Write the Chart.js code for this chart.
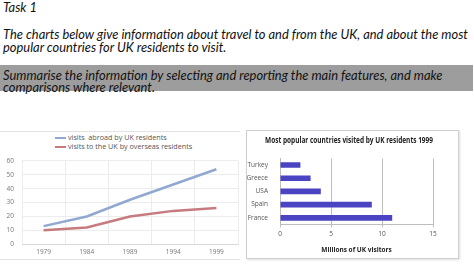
<!DOCTYPE html>
<html>
<head>
<meta charset="utf-8">
<script src="https://cdn.jsdelivr.net/npm/chart.js@4.4.1/dist/chart.umd.min.js"></script>
<style>
  body { margin: 0; width: 474px; height: 266px; background: #fff; overflow: hidden; position: relative; font-family: "Open Sans", sans-serif; }
  .txt { position: absolute; left: 3px; white-space: nowrap; font-family: Lato, sans-serif; font-style: italic; color: #111; font-size: 12px; line-height: 14px; }
  #band { position: absolute; left: 0; top: 65px; width: 473px; height: 26px; background: #9d9d9d; }
  #leftBox { position: absolute; left: 0; top: 131px; width: 240px; height: 127px; border-top: 1px solid #e2e2e2; border-bottom: 1px solid #e2e2e2; }
  #rightBox { position: absolute; left: 246px; top: 130px; width: 211px; height: 127px; border: 1px solid #cfcfcf; box-shadow: 1px 1px 2px #ddd; }
  #legend { position: absolute; left: 55px; top: 133px; font-size: 7.2px; color: #555; line-height: 9px; }
  #legend div { white-space: pre; }
  #legend span { display: inline-block; width: 11px; height: 2px; margin-right: 2px; vertical-align: middle; }
  #lineWrap { position: absolute; left: 0; top: 149px; width: 242px; height: 111px; }
  #barWrap { position: absolute; left: 246px; top: 130px; width: 212px; height: 128px; }
</style>
</head>
<body>
<div class="txt" style="top:0px">Task 1</div>
<div class="txt fit" style="top:27px">The charts below give information about travel to and from the UK, and about the most</div>
<div class="txt" style="top:40px">popular countries for UK residents to visit.</div>
<div id="band"></div>
<div class="txt" style="top:68px">Summarise the information by selecting and reporting the main features, and make</div>
<div class="txt" style="top:80px">comparisons where relevant.</div>

<div id="leftBox"></div>
<div id="rightBox"></div>
<div id="legend"></div>
<div id="lineWrap"><canvas id="lineChart"></canvas></div>
<div id="barWrap"><canvas id="barChart"></canvas></div>

<script>
// line chart data
const years = ["1979", "1984", "1989", "1994", "1999"];
const visitsAbroad = [13, 20, 32, 43, 54];
const visitsToUK = [10, 12, 20, 24, 26];
const lineLabels = ["visits  abroad by UK residents", "visits to the UK by overseas residents"];
const lineColors = ["#91a8d0", "#c67b7e"];

// bar chart data
const countries = ["Turkey", "Greece", "USA", "Spain", "France"];
const ukVisitors = [2, 3, 4, 9, 11];
const barTitle = "Most popular countries visited by UK residents 1999";
const barAxisTitle = "Millions of UK visitors";

// fit the long heading line to the page width
const fitLine = document.querySelector(".fit");
let size = 12;
const setSize = () => document.querySelectorAll(".txt").forEach(e => e.style.fontSize = size + "px");
while (fitLine.getBoundingClientRect().width < 468 && size < 16) { size += 0.1; setSize(); }
while (fitLine.getBoundingClientRect().width > 468 && size > 8) { size -= 0.1; setSize(); }

Chart.defaults.animation = false;
Chart.defaults.font.family = "'Open Sans', sans-serif";

const lineChart = new Chart("lineChart", {
  type: "line",
  data: {
    labels: years,
    datasets: [
      { label: lineLabels[0], data: visitsAbroad, borderColor: lineColors[0], borderWidth: 2.5, pointRadius: 0, tension: 0 },
      { label: lineLabels[1], data: visitsToUK, borderColor: lineColors[1], borderWidth: 2.5, pointRadius: 0, tension: 0 }
    ]
  },
  options: {
    responsive: true,
    maintainAspectRatio: false,
    layout: { padding: { top: 4, right: 4, left: 0, bottom: 0 } },
    plugins: { legend: { display: false }, tooltip: { enabled: false } },
    scales: {
      x: {
        offset: true,
        grid: { color: "#ececec", offset: true, drawTicks: false },
        border: { color: "#d9d9d9" },
        ticks: { color: "#777", font: { size: 6.5 }, padding: 4, maxRotation: 0 }
      },
      y: {
        min: 0, max: 60,
        afterFit: s => { s.width = 22; },
        grid: { color: "#ececec", drawTicks: false },
        border: { display: false },
        ticks: { stepSize: 10, color: "#777", font: { size: 6.5 }, padding: 8 }
      }
    }
  }
});

// html legend, stacked and left aligned as in the picture
document.getElementById("legend").innerHTML = lineChart.data.datasets
  .map(d => `<div><span style="background:${d.borderColor}"></span>${d.label}</div>`).join("");

// nudge the title so it sits centred in the box, not over the axis-shifted area
const titleNudge = {
  id: "titleNudge",
  afterLayout(chart) { chart.titleBlock.left += 19; }
};

new Chart("barChart", {
  type: "bar",
  data: {
    labels: countries,
    datasets: [{ data: ukVisitors, backgroundColor: "#4a43c2", barPercentage: 0.43, categoryPercentage: 1 }]
  },
  plugins: [titleNudge],
  options: {
    indexAxis: "y",
    responsive: true,
    maintainAspectRatio: false,
    layout: { padding: { top: 0, right: 25, left: 0, bottom: 0 } },
    plugins: {
      legend: { display: false },
      tooltip: { enabled: false },
      title: { display: true, text: barTitle, color: "#222", font: { size: 8.7, weight: "bold" }, padding: { top: 5, bottom: 13 } }
    },
    scales: {
      x: {
        min: 0, max: 15,
        grid: { color: "#bdbdbd", drawTicks: true, tickLength: 3 },
        border: { color: "#bdbdbd" },
        ticks: { stepSize: 5, color: "#555", font: { size: 6.5 }, padding: 3 },
        title: { display: true, text: barAxisTitle, color: "#222", font: { size: 6.5, weight: "bold" }, padding: { top: 5 } }
      },
      y: {
        afterFit: s => { s.width = 34; },
        grid: { display: false },
        border: { color: "#bdbdbd" },
        ticks: { color: "#555", font: { size: 6.5 }, padding: 4 }
      }
    }
  }
});
</script>
</body>
</html>
